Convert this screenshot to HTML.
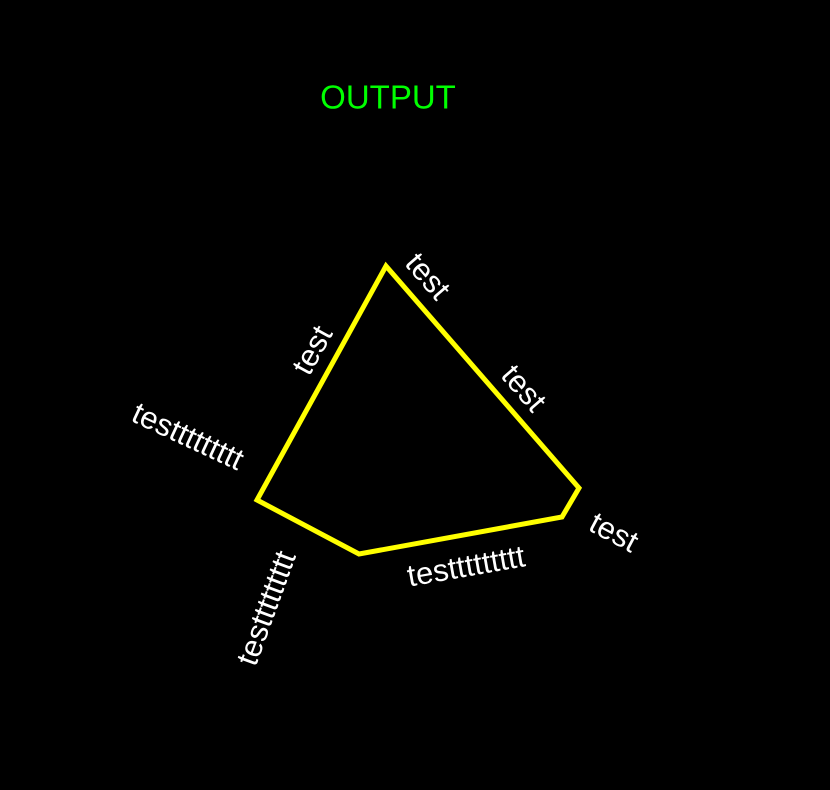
<!DOCTYPE html>
<html><head><style>html,body{margin:0;padding:0;background:#000;}svg{display:block}</style></head>
<body>
<svg width="830" height="790" xmlns="http://www.w3.org/2000/svg" style="background:#000">
<text x="388" y="97" fill="#00ff00" font-family="Liberation Sans, sans-serif" font-size="33" text-anchor="middle" dominant-baseline="central">OUTPUT</text>
<polygon points="386,266 579,488 562,517 359,554 257,500" fill="none" stroke="#ffff00" stroke-width="5" stroke-linejoin="miter"/>
<g fill="#fff" font-family="Liberation Sans, sans-serif" font-size="31" text-anchor="middle" dominant-baseline="central">
<text transform="translate(428,276) rotate(49)">test</text>
<text transform="translate(312,350) rotate(-61)">test</text>
<text transform="translate(524,388) rotate(49)">test</text>
<text transform="translate(188,436) rotate(25)">testtttttttt</text>
<text transform="translate(614,532) rotate(28)">test</text>
<text transform="translate(466,566) rotate(-10)">testtttttttt</text>
<text transform="translate(266,608) rotate(-70)">testtttttttt</text>
</g>
</svg>
</body></html>
